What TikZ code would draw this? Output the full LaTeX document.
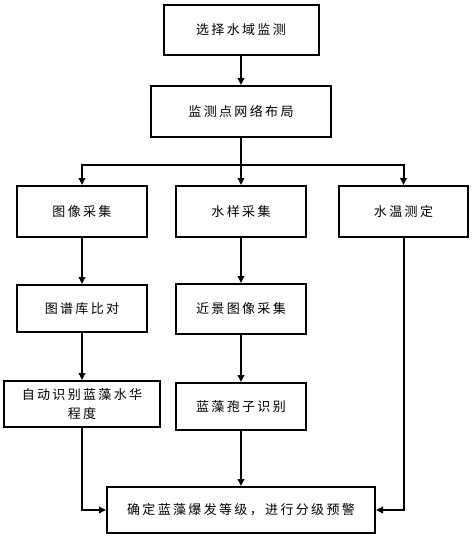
\documentclass[tikz,border=0pt]{standalone}
\usepackage{fontspec}
\newfontfamily\cjk[LetterSpace=18]{Noto Sans CJK SC}
\usetikzlibrary{arrows.meta,positioning}

\begin{document}
\begin{tikzpicture}[x=1pt,y=-1pt,
    box/.style={draw=black,line width=2pt,inner sep=0pt,align=center,
      font=\cjk\fontsize{13}{19}\selectfont},
    link/.style={line width=2pt},
    flow/.style={link,-{Triangle[length=7pt,width=6.5pt]}}]
    \useasboundingbox (0,0) rectangle (474,538);

    % top of the chain
    \node[box,minimum width=155pt,minimum height=50pt] (select) at (241,30) {选择水域监测};
    \node[box,minimum width=180pt,minimum height=51pt] (layout) at (241,111.5) {监测点网络布局};

    % three branches
    \node[box,minimum width=130pt,minimum height=51pt] (image) at (82,211.5) {图像采集};
    \node[box,minimum width=130pt,minimum height=51pt] (sample) at (241,211.5) {水样采集};
    \node[box,minimum width=129pt,minimum height=51pt] (temp) at (403.5,211.5) {水温测定};

    \node[box,minimum width=130pt,minimum height=47pt] (atlas) at (82,308.5) {图谱库比对};
    \node[box,minimum width=130pt,minimum height=50pt] (closeup) at (241,309) {近景图像采集};

    \node[box,minimum width=156pt,minimum height=46pt] (bloom) at (82,404) {自动识别蓝藻水华\\程度};
    \node[box,minimum width=130pt,minimum height=47pt] (spore) at (241,406.5) {蓝藻孢子识别};

    % result
    \node[box,minimum width=268pt,minimum height=46pt] (warn) at (241,510) {确定蓝藻爆发等级，进行分级预警};

    % connectors
    \coordinate (split) at (241,165);
    \draw[flow] (select) -- (layout);
    \draw[link] (layout) -- (split);
    \draw[flow] (split) -| (image);
    \draw[flow] (split) -- (sample);
    \draw[flow] (split) -| (temp);
    \draw[flow] (image) -- (atlas);
    \draw[flow] (atlas) -- (bloom);
    \draw[flow] (sample) -- (closeup);
    \draw[flow] (closeup) -- (spore);
    \draw[flow] (spore) -- (warn);
    \draw[flow] (bloom) |- (warn);
    \draw[flow] (temp) |- (warn);
\end{tikzpicture}
\end{document}
